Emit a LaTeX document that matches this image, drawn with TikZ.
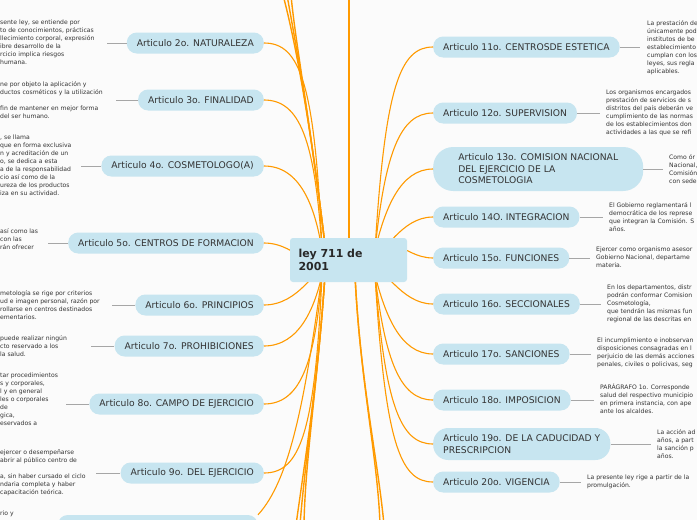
\documentclass[tikz,border=0pt]{standalone}
\usepackage{fontspec}
\setmainfont{DejaVu Sans}
\definecolor{nodefill}{HTML}{C7E5F0}
\definecolor{conn}{HTML}{FF9A00}
\definecolor{txt}{HTML}{333333}
\begin{document}
\begin{tikzpicture}[x=1pt,y=-1pt,
  art/.style={fill=nodefill,rounded corners=10pt,inner xsep=10pt,minimum height=21pt,font=\fontsize{9.2}{11.5}\selectfont,text=txt},
  desc/.style={font=\fontsize{6.1}{8}\selectfont,text=txt,align=left,inner sep=0pt},
  grey/.style={draw=gray!70,line width=1pt},
  br/.style={draw=conn,line width=1.1pt}]
\useasboundingbox[fill=white!97!gray] (0,0) rectangle (697,520);
\coordinate (cl) at (322,250);
\coordinate (cr) at (375,250);
\coordinate (clb) at (322,275);
\coordinate (crb) at (375,275);
% left nodes
\node[art,anchor=east] (n2) at (264,43) {Articulo 2o. NATURALEZA};
\node[art,anchor=east] (n3) at (264,100) {Articulo 3o. FINALIDAD};
\node[art,anchor=east] (n4) at (264,166) {Articulo 4o. COSMETOLOGO(A)};
\node[art,anchor=east] (n5) at (264,243) {Articulo 5o. CENTROS DE FORMACION};
\node[art,anchor=east] (n6) at (264,305) {Articulo 6o. PRINCIPIOS};
\node[art,anchor=east] (n7) at (264,346) {Articulo 7o. PROHIBICIONES};
\node[art,anchor=east] (n8) at (264,404) {Articulo 8o. CAMPO DE EJERCICIO};
\node[art,anchor=east] (n9) at (264,473) {Articulo 9o. DEL EJERCICIO};
\node[art,anchor=east,minimum width=200pt,minimum height=26pt] (n10) at (258,528) {};
% right nodes
\node[art,anchor=west] (r11) at (433,47) {Articulo 11o. CENTROSDE ESTETICA};
\node[art,anchor=west] (r12) at (433,113) {Articulo 12o. SUPERVISION};
\node[art,anchor=west,align=left,minimum height=44pt,minimum width=210pt,rounded corners=20pt,inner xsep=18pt] (r13) at (433,169) {Articulo 13o. COMISION NACIONAL\\DEL EJERCICIO DE LA\\COSMETOLOGIA};
\node[art,anchor=west] (r14) at (433,217) {Articulo 14O. INTEGRACION};
\node[art,anchor=west] (r15) at (433,258) {Articulo 15o. FUNCIONES};
\node[art,anchor=west] (r16) at (433,304) {Articulo 16o. SECCIONALES};
\node[art,anchor=west] (r17) at (433,354) {Articulo 17o. SANCIONES};
\node[art,anchor=west] (r18) at (433,400) {Articulo 18o. IMPOSICION};
\node[art,anchor=west,align=left,minimum height=32pt,rounded corners=15pt] (r19) at (433,444) {Articulo 19o. DE LA CADUCIDAD Y\\PRESCRIPCION};
\node[art,anchor=west] (r20) at (433,482) {Articulo 20o. VIGENCIA};
% branches left
\foreach \n/\y in {n2/43,n3/100,n4/166,n5/243}
  \draw[br] (cl) .. controls (315,\y+40) and (300,\y) .. (\n.east);
\foreach \n/\y in {n6/305,n7/346,n8/404,n9/473}
  \draw[br] (clb) .. controls (315,\y-40) and (300,\y) .. (\n.east);
\draw[br] (clb) .. controls (305,400) and (290,480) .. (n10.north east);
\foreach \n/\y in {r11/47,r12/113,r13/169,r14/217}
  \draw[br] (cr) .. controls (385,\y+40) and (400,\y) .. (\n.west);
\foreach \n/\y in {r15/258,r16/304,r17/354,r18/400,r19/444,r20/482}
  \draw[br] (crb) .. controls (385,\y-40) and (400,\y) .. (\n.west);
% off-canvas branches
\coordinate (t1) at (283,-5); \coordinate (t2) at (287,-5); \coordinate (t3) at (291,-5);
\coordinate (tv) at (349,-5); \coordinate (ctv) at (349,250);
\coordinate (b1) at (296,525); \coordinate (b2) at (300,525); \coordinate (b3) at (304,525);
\coordinate (b4) at (380,525); \coordinate (b5) at (384,525);
\coordinate (ct) at (325,245); \coordinate (cb) at (325,275); \coordinate (cb2) at (355,275);
\foreach \t in {t1,t2,t3} \draw[br,line width=1.4pt] (ct) .. controls (310,120) and (295,40) .. (\t);
\draw[br,line width=1.4pt] (ctv) -- (tv);
\foreach \t in {b1,b2,b3} \draw[br,line width=1.4pt] (cb) .. controls (318,380) and (305,460) .. (\t);
\foreach \t in {b4,b5} \draw[br,line width=1.4pt] (cb2) .. controls (360,380) and (378,460) .. (\t);
% central node on top
\node[fill=nodefill,rounded corners=3pt,minimum width=117pt,minimum height=44pt,align=left,font=\bfseries\fontsize{11}{13}\selectfont,text=txt!80!black,text width=100pt] (c) at (348.5,260) {ley 711 de\\2001};
% left descriptions
\coordinate (d2) at (107,43); \draw[grey] (d2) -- (n2.west);
\coordinate (d3) at (116,100); \draw[grey] (d3) -- (n3.west);
\coordinate (d4) at (81,166); \draw[grey] (d4) -- (n4.west);
\coordinate (d5) at (48,243); \draw[grey] (d5) -- (n5.west);
\coordinate (d6) at (112,305); \draw[grey] (d6) -- (n6.west);
\coordinate (d7) at (91,346); \draw[grey] (d7) -- (n7.west);
\coordinate (d8) at (66,404); \draw[grey] (d8) -- (n8.west);
\coordinate (d9) at (96,473); \draw[grey] (d9) -- (n9.west);
\node[desc,anchor=north west] (t2x) at (0,20) {sente ley, se entiende por\\to de conocimientos, prácticas\\llecimiento corporal, expresión\\ibre desarrollo de la\\rcicio implica riesgos\\humana.};
\node[desc,anchor=north west] (t3x) at (0,81) {ne por objeto la aplicación y\\ductos cosméticos y la utilización\\\\ fin de mantener en mejor forma\\del ser humano.};
\node[desc,anchor=north west] (t4x) at (0,135) {, se llama\\que en forma exclusiva\\n y acreditación de un\\o, se dedica a esta\\a de la responsabilidad\\cio así como de la\\ureza de los productos\\iza en su actividad.};
\node[desc,anchor=north west] (t5x) at (0,228) {así como las\\ con las\\rán ofrecer};
\node[desc,anchor=north west] (t6x) at (0,290) {metología se rige por criterios\\ud e imagen personal, razón por\\rollarse en centros destinados\\ementarios.};
\node[desc,anchor=north west] (t7x) at (0,335) {puede realizar ningún\\cto reservado a los\\ la salud.};
\node[desc,anchor=north west] (t8x) at (0,373) {tar procedimientos\\s y corporales,\\l y en general\\les o corporales\\ de\\gica,\\eservados a};
\node[desc,anchor=north west] (t9x) at (0,450) {ejercer o desempeñarse\\abrir al público centro de\\\\a, sin haber cursado el ciclo\\ndaria completa y haber\\capacitación teórica.};
\node[desc,anchor=north west] (t10x) at (0,511) {rio y};
% right descriptions
\coordinate (e11) at (640,47); \draw[grey] (r11.east) -- (e11);
\coordinate (e12) at (600,113); \draw[grey] (r12.east) -- (e12);
\coordinate (e13) at (663,169); \draw[grey] (r13.east) -- (e13);
\coordinate (e14) at (603,217); \draw[grey] (r14.east) -- (e14);
\coordinate (e15) at (590,258); \draw[grey] (r15.east) -- (e15);
\coordinate (e16) at (601,304); \draw[grey] (r16.east) -- (e16);
\coordinate (e17) at (591,354); \draw[grey] (r17.east) -- (e17);
\coordinate (e18) at (594,400); \draw[grey] (r18.east) -- (e18);
\coordinate (e19) at (651,444); \draw[grey] (r19.east) -- (e19);
\coordinate (e20) at (581,482); \draw[grey] (r20.east) -- (e20);
\node[desc,anchor=north west] at (647,20) {La prestación de\\únicamente pod\\institutos de be\\establecimiento\\cumplan con los\\leyes, sus regla\\aplicables.};
\node[desc,anchor=north west] at (606,90) {Los organismos encargados\\prestación de servicios de s\\distritos del país deberán ve\\cumplimiento de las normas\\de los establecimientos don\\actividades a las que se refi};
\node[desc,anchor=north west] at (669,154) {Como ór\\Nacional,\\Comisión\\con sede};
\node[desc,anchor=north west] at (609,202) {El Gobierno reglamentará l\\democrática de los represe\\que integran la Comisión. S\\años.};
\node[desc,anchor=north west] at (596,247) {Ejercer como organismo asesor\\Gobierno Nacional, departame\\materia.};
\node[desc,anchor=north west] at (607,285) {En los departamentos, distr\\podrán conformar Comision\\Cosmetología,\\que tendrán las mismas fun\\regional de las descritas en};
\node[desc,anchor=north west] at (597,338) {El incumplimiento e inobservan\\disposiciones consagradas en l\\perjuicio de las demás acciones\\penales, civiles o policivas, seg};
\node[desc,anchor=north west] at (600,384) {PARÁGRAFO 1o. Corresponde\\salud del respectivo municipio\\en primera instancia, con ape\\ante los alcaldes.};
\node[desc,anchor=north west] at (657,429) {La acción ad\\años, a part\\la sanción p\\años.};
\node[desc,anchor=north west] at (587,475) {La presente ley rige a partir de la\\promulgación.};
\end{tikzpicture}
\end{document}
